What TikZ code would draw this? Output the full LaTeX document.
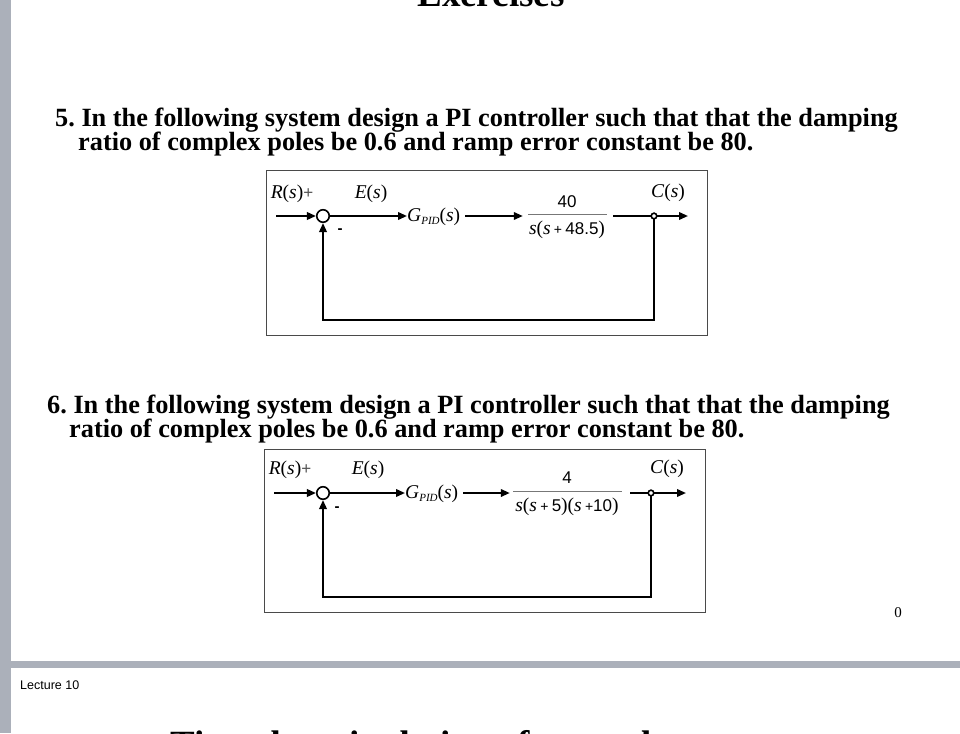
\documentclass[tikz,border=0pt]{standalone}
\usepackage{fontspec}
\setmainfont{Liberation Serif}
\newfontfamily\arialf{Liberation Sans}
\usetikzlibrary{arrows.meta}
\definecolor{barcol}{HTML}{ABB0BA}
\definecolor{framegrey}{HTML}{4A4A4A}
\definecolor{fracgrey}{HTML}{777777}
\definecolor{plusgrey}{HTML}{555555}
\newcommand{\sub}[1]{\raisebox{-2.5pt}{\fontsize{11}{12}\selectfont\itshape #1}}
\newcommand{\pls}{{\arialf\fontsize{14}{15}\selectfont+}}
\newcommand{\dig}[1]{{\arialf\fontsize{17}{18}\selectfont #1}}
\frenchspacing
\begin{document}
\begin{tikzpicture}[x=1pt,y=-1pt,
 lbl/.style={inner sep=0pt, font=\fontsize{19.5}{21}\selectfont},
 num/.style={inner sep=0pt, font=\arialf\fontsize{17}{18}\selectfont},
 minus/.style={inner sep=0pt, font=\arialf\bfseries\fontsize{15}{16}\selectfont},
 sumc/.style={circle, draw, line width=1.6pt, minimum size=12.5pt, inner sep=0pt, fill=white},
 tapdot/.style={circle, draw, line width=1.5pt, minimum size=5.5pt, inner sep=0pt, fill=white},
 sig/.style={line width=2pt, line join=miter},
 arr/.style={sig, -{Triangle[length=9pt,width=7.5pt]}},
 frame/.style={draw=framegrey, line width=0.9pt},
 fracbar/.style={fill=fracgrey, inner sep=0pt, minimum height=1pt},
 qtext/.style={anchor=base west, inner sep=0pt, font=\bfseries\fontsize{26.3}{24}\selectfont},
 ttl/.style={inner sep=0pt, font=\bfseries\fontsize{37}{40}\selectfont}]
\useasboundingbox (0,0) rectangle (960,733);
\clip (0,0) rectangle (960,733);
\fill[white] (0,0) rectangle (960,733);
% slide chrome
\fill[barcol] (0,0) rectangle (11,733);
\fill[barcol] (0,661) rectangle (960,668);
\node[ttl, anchor=base] (title) at (491,7) {Exercises};
\node[ttl, anchor=base west] (title2) at (170,756) {Time domain design of control systems};
\node[anchor=base west, inner sep=0pt, font=\arialf\fontsize{12.5}{14}\selectfont] (lect) at (20,689) {Lecture 10};
\node[inner sep=0pt, font=\fontsize{15}{17}\selectfont] (pnum) at (898,613) {0};

% ---------------- Problem 5 ----------------
\node[qtext] (q5a) at (55,126) {5. In the following system design a PI controller such that that the damping};
\node[qtext] (q5b) at (78,150) {ratio of complex poles be 0.6 and ramp error constant be 80.};

\node[frame, minimum width=441pt, minimum height=165pt, inner sep=0pt] (box1) at (486.5,252.5) {};
\node[sumc] (sum1) at (323,216) {};
\coordinate (in1) at (276,216);
\coordinate (out1) at (688,216);
\coordinate (fb1) at (323,320);
\node[lbl] (r1) at (292,194) {\textit{R}(\textit{s}){\arialf\color{plusgrey}\fontsize{17}{18}\selectfont+}};
\node[lbl] (e1) at (371,194) {\textit{E}(\textit{s})};
\node[lbl, anchor=west] (g1) at (407,217) {\textit{G}\sub{PID}(\textit{s})};
\node[fracbar, minimum width=79pt] (p1) at (567.5,214.5) {};
\node[num] (n1) at (567,202) {40};
\node[lbl] (d1) at (567,230) {\textit{s}(\textit{s}\,\pls\,\dig{48.5})};
\node[lbl] (c1) at (668,193) {\textit{C}(\textit{s})};
\node[minus] (m1) at (340,231) {-};
\node[tapdot] (dot1) at (654,216) {};

\draw[arr] (in1) -- (sum1.west);
\draw[arr] (sum1.east) -- (g1.west |- sum1);
\draw[arr] ([xshift=5pt]g1.east |- sum1) -- ([xshift=-5pt]p1.west |- sum1);
\draw[sig] ([xshift=6pt]p1.east |- sum1) -- (dot1.center);
\draw[arr] (dot1.center) -- (out1);
\draw[arr] (dot1.center) |- (fb1) -- (sum1.south);
\node[tapdot] at (dot1) {};

% ---------------- Problem 6 ----------------
\node[qtext] (q6a) at (47,413) {6. In the following system design a PI controller such that that the damping};
\node[qtext] (q6b) at (69,437) {ratio of complex poles be 0.6 and ramp error constant be 80.};

\node[frame, minimum width=441pt, minimum height=163pt, inner sep=0pt] (box2) at (484.5,530.5) {};
\node[sumc] (sum2) at (323,493) {};
\coordinate (in2) at (274,493);
\coordinate (out2) at (686,493);
\coordinate (fb2) at (323,597);
\node[lbl] (r2) at (290,470) {\textit{R}(\textit{s}){\arialf\color{plusgrey}\fontsize{17}{18}\selectfont+}};
\node[lbl] (e2) at (368,470) {\textit{E}(\textit{s})};
\node[lbl, anchor=west] (g2) at (405,494) {\textit{G}\sub{PID}(\textit{s})};
\node[fracbar, minimum width=109pt] (p2) at (567.5,491) {};
\node[num] (n2) at (567,478) {4};
\node[lbl] (d2) at (567,507) {\textit{s}(\textit{s}\,\pls\,\dig{5})(\textit{s}\,\pls\dig{10})};
\node[lbl] (c2) at (667,469) {\textit{C}(\textit{s})};
\node[minus] (m2) at (337,509) {-};
\node[tapdot] (dot2) at (651,493) {};

\draw[arr] (in2) -- (sum2.west);
\draw[arr] (sum2.east) -- (g2.west |- sum2);
\draw[arr] ([xshift=5pt]g2.east |- sum2) -- ([xshift=-3pt]p2.west |- sum2);
\draw[sig] ([xshift=8pt]p2.east |- sum2) -- (dot2.center);
\draw[arr] (dot2.center) -- (out2);
\draw[arr] (dot2.center) |- (fb2) -- (sum2.south);
\node[tapdot] at (dot2) {};
\end{tikzpicture}
\end{document}
